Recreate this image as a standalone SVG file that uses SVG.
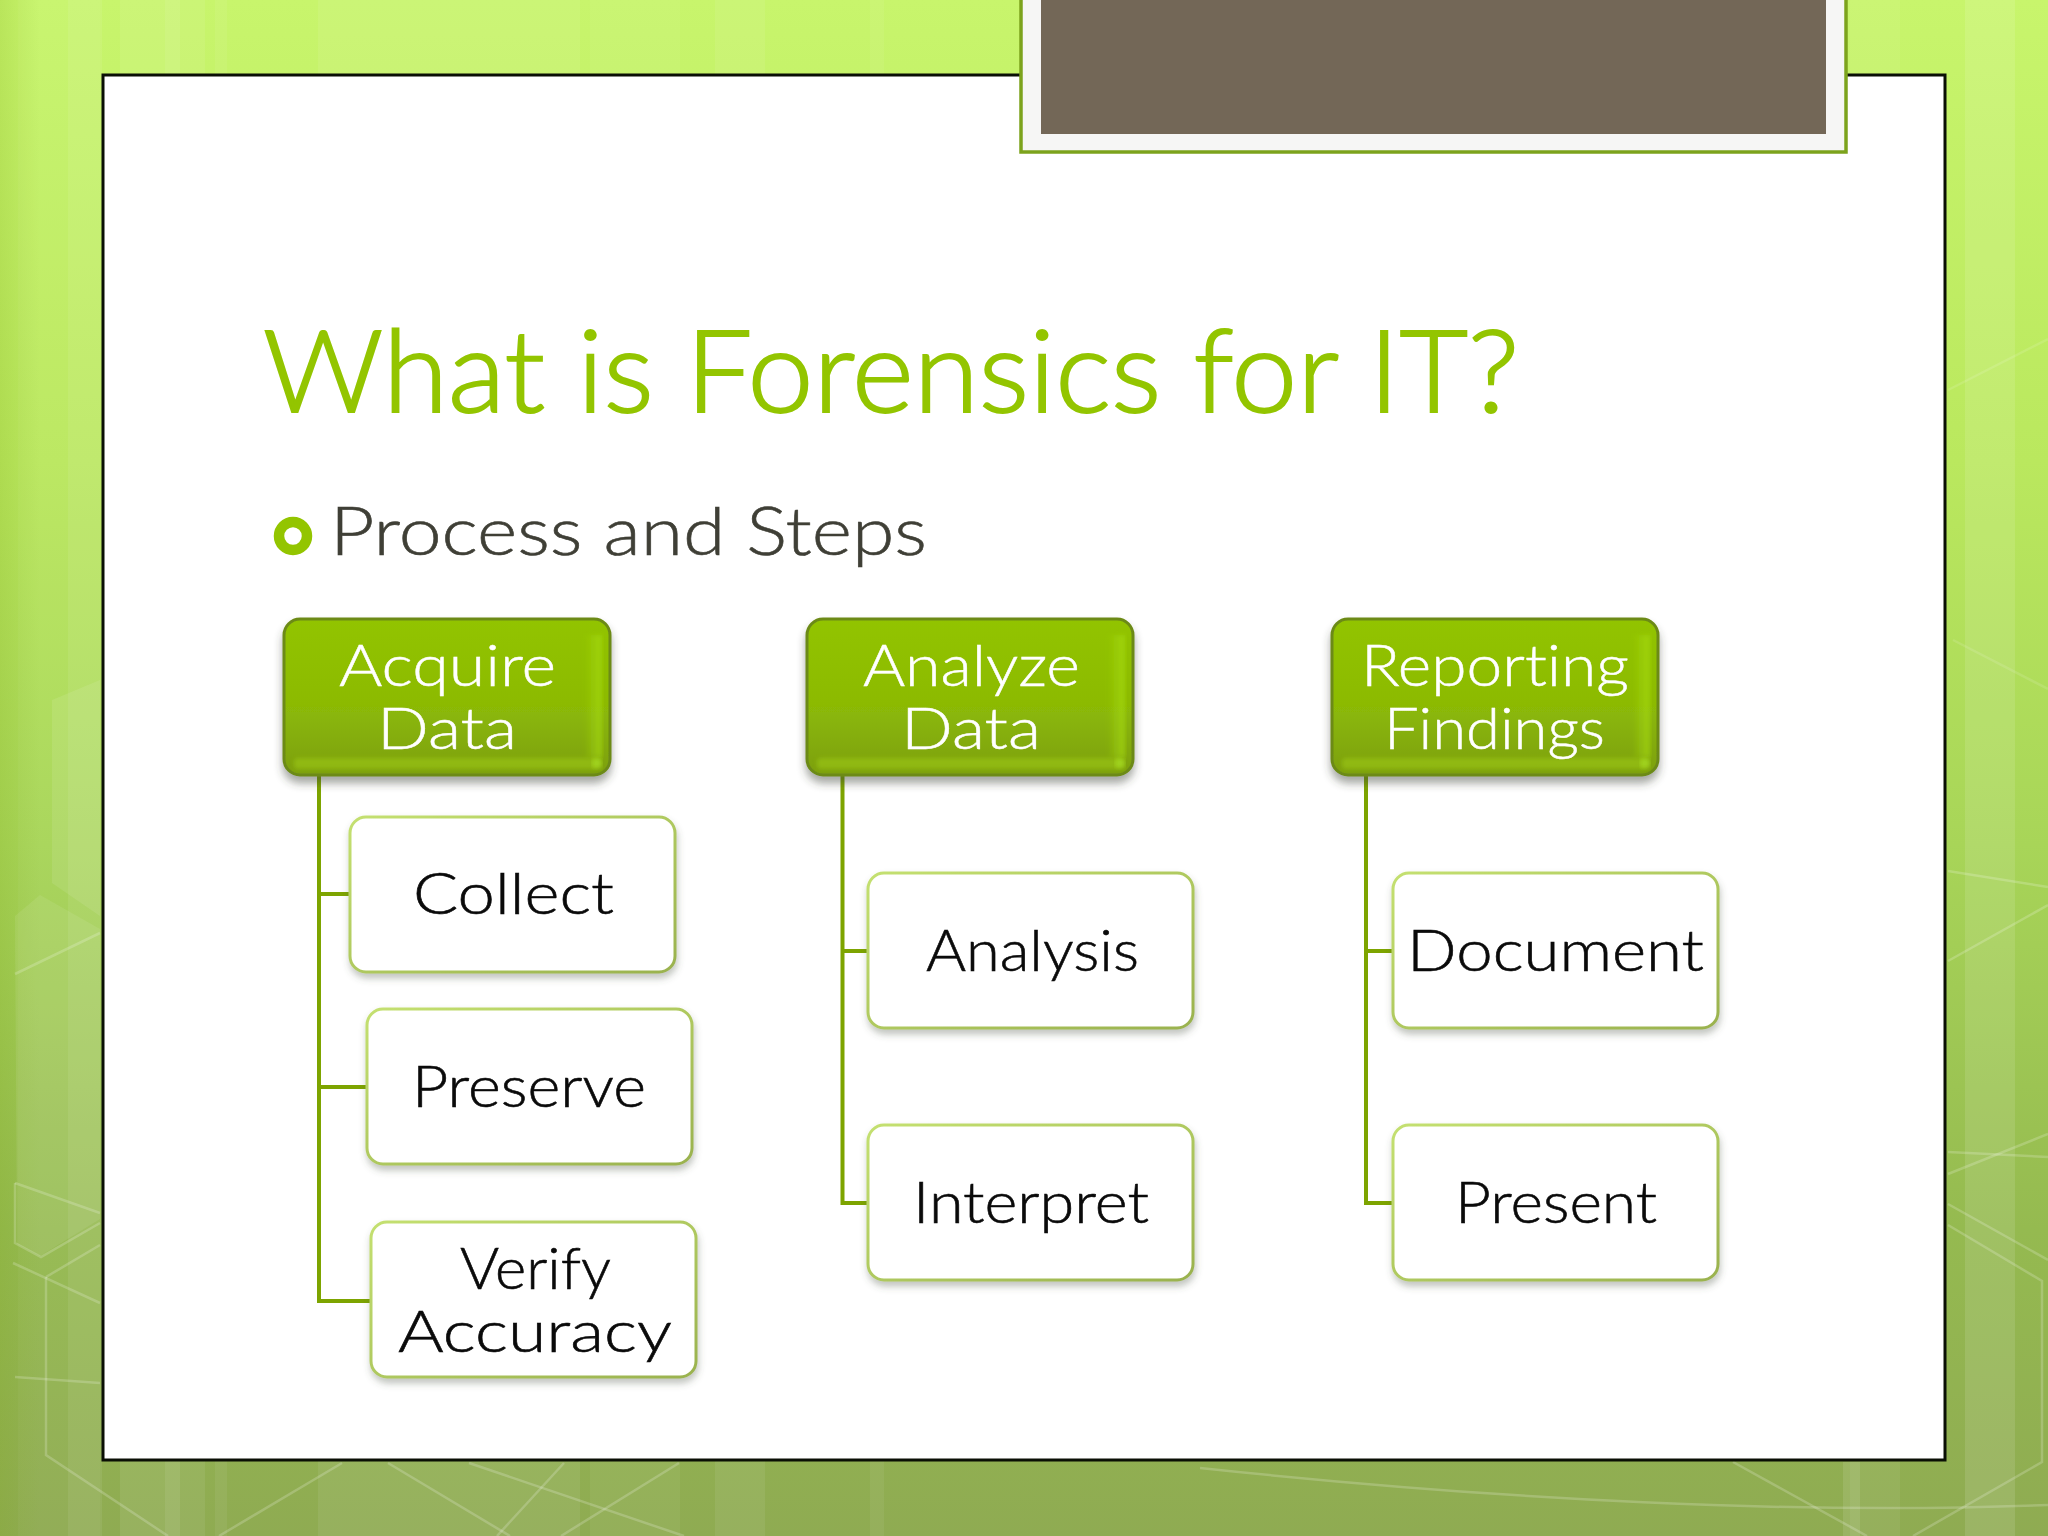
<svg xmlns="http://www.w3.org/2000/svg" width="2048" height="1536" viewBox="0 0 2048 1536">
<style>
text{font-family:"Lato","Noto Sans","Liberation Sans",sans-serif;font-weight:300;font-variant-ligatures:none;text-anchor:start}
.hd{fill:#fff;stroke:#fff;stroke-width:.5;font-size:58px}
.ch{fill:#0a0a0a;stroke:#0a0a0a;stroke-width:.6;font-size:58px}
.gb{fill:url(#gGreen);stroke:#6c8a18;stroke-width:3}
.wb{fill:#fff;stroke:url(#gEdge);stroke-width:3}
.cn{fill:none;stroke:#7da400;stroke-width:4}
.bl{fill:none;stroke:#fff;stroke-opacity:.2;stroke-width:2.5}
.st{fill:#fff}
</style>
<defs>
<linearGradient id="gBg" x1="0" y1="0" x2="0" y2="1">
<stop offset="0" stop-color="#c8f56c"/><stop offset=".3" stop-color="#bae85e"/><stop offset=".55" stop-color="#a8d558"/><stop offset=".8" stop-color="#95ba50"/><stop offset="1" stop-color="#8fab52"/>
</linearGradient>
<linearGradient id="gLeft" x1="0" y1="0" x2="1" y2="0">
<stop offset="0" stop-color="#7fa81a" stop-opacity=".2"/><stop offset="1" stop-color="#7fa81a" stop-opacity="0"/>
</linearGradient>
<linearGradient id="gGreen" x1="0" y1="0" x2="0" y2="1">
<stop offset="0" stop-color="#92c400"/><stop offset=".55" stop-color="#8cba06"/><stop offset="1" stop-color="#7c9f0e"/>
</linearGradient>
<linearGradient id="gEdge" x1="0" y1="0" x2="1" y2="1">
<stop offset="0" stop-color="#c4e070"/><stop offset="1" stop-color="#9ab24e"/>
</linearGradient>
<linearGradient id="gStripR" x1="0" y1="0" x2="1" y2="0">
<stop offset="0" stop-color="#a6dc10" stop-opacity="0"/><stop offset="1" stop-color="#a6dc10"/>
</linearGradient>
<filter id="sh" x="-10%" y="-10%" width="120%" height="125%">
<feDropShadow dx="0" dy="7" stdDeviation="4" flood-color="#3a4030" flood-opacity=".45"/>
</filter>
<filter id="sh2" x="-10%" y="-10%" width="120%" height="125%">
<feDropShadow dx="1" dy="5" stdDeviation="3.500" flood-color="#50584a" flood-opacity=".35"/>
</filter>
<filter id="soft" x="-10%" y="-30%" width="120%" height="160%"><feGaussianBlur stdDeviation="2"/></filter>
<g id="hdBox">
<rect class="gb" x="0" y="0" width="326" height="156" rx="16" filter="url(#sh)"/>
<rect x="10" y="139" width="306" height="11" rx="4" fill="#9cc812" opacity=".6" filter="url(#soft)"/>
<rect x="300" y="16" width="18" height="122" fill="url(#gStripR)" opacity=".7" filter="url(#soft)"/>
<rect x="308" y="139" width="10" height="10" rx="3" fill="#a6dc20" opacity=".7" filter="url(#soft)"/>
</g>
<rect id="chBox" class="wb" x="0" y="0" width="325" height="155" rx="16" filter="url(#sh2)"/>
</defs>
<g id="background">
<rect width="2048" height="1536" fill="url(#gBg)"/>
<rect width="40" height="1536" fill="url(#gLeft)"/>
<g class="st">
<rect x="18" width="82" height="1536" opacity=".03"/>
<rect x="68" width="34" height="1536" opacity=".07"/>
<rect x="120" width="60" height="1536" opacity=".08"/>
<rect x="165" y="0" width="40" height="1536" opacity=".07"/>
<rect x="215" y="0" width="12" height="1536" opacity=".06"/>
<rect x="318" y="0" width="262" height="1536" opacity=".07"/>
<rect x="590" y="0" width="90" height="1536" opacity=".05"/>
<rect x="715" y="0" width="50" height="1536" opacity=".07"/>
<rect x="870" y="0" width="14" height="1536" opacity=".06"/>
<rect x="1965" y="0" width="50" height="1536" opacity=".11"/>
<rect x="1850" y="0" width="50" height="1536" opacity=".06"/>
<rect x="1843" y="1462" width="17" height="74" opacity=".1"/>
<polygon points="52,700 100,680 100,916 52,883" opacity=".09"/>
<polygon points="15,916 40,895 100,929 100,1219 40,1256 17,1244" opacity=".08"/>
</g>
<g class="bl">
<path d="M15,974 L100,933"/>
<path d="M15,1183 L100,1213"/>
<path d="M15,1183 V1243 L41,1257 L100,1223"/>
<path d="M13,1263 L100,1303"/>
<path d="M46,1277 L100,1245"/>
<path d="M46,1277 V1455 L168,1536"/>
<path d="M15,1377 L100,1383"/>
<path d="M342,1463 L219,1536"/>
<path d="M388,1463 L510,1536"/>
<path d="M469,1463 L684,1536"/>
<path d="M564,1463 L497,1536"/>
<path d="M679,1463 L561,1536"/>
<path d="M1948,871 L2048,887"/>
<path d="M1948,961 L2048,905"/>
<path d="M1948,1152 L2048,1157"/>
<path d="M1948,1174 L2048,1134"/>
<path d="M1948,1204 L2048,1260"/>
<path d="M1948,1225 L2042,1281 V1462 L1913,1536"/>
<path d="M1733,1462 L1867,1536"/>
<path d="M1200,1468 C1500,1500 1800,1515 2048,1505"/>
<path d="M1948,390 L2048,339" stroke-opacity=".12"/>
<path d="M1953,640 L2048,689" stroke-opacity=".12"/>
</g>
</g>
<g id="panel">
<rect x="103" y="75" width="1842" height="1385" fill="#fff" stroke="#0a0f05" stroke-width="3"/>
</g>
<g id="frame">
<rect x="1021" y="-6" width="825" height="158" fill="#f6f6f5" stroke="#7ca31c" stroke-width="3.500"/>
<rect x="1041" y="-2" width="785" height="136" fill="#736757"/>
</g>
<text id="title" x="263" y="412" font-size="114" fill="#93c500" stroke="#93c500" stroke-width="2" textLength="1256" lengthAdjust="spacingAndGlyphs">What is Forensics for IT?</text>
<g id="bullet">
<circle cx="293" cy="536" r="14" fill="#fff" stroke="#93c500" stroke-width="10.500"/>
<text x="330" y="555" font-size="67" fill="#3f3f36" stroke="#3f3f36" stroke-width=".6" textLength="597" lengthAdjust="spacingAndGlyphs">Process and Steps</text>
</g>
<g id="connectors">
<path class="cn" d="M319,776 V1301 H371 M319,894 H350 M319,1087 H367"/>
<path class="cn" d="M842.500,776 V1203 H867 M842.500,951 H867"/>
<path class="cn" d="M1366,776 V1203 H1392 M1366,951 H1392"/>
</g>
<g id="acquire-data">
<use href="#hdBox" x="284" y="619"/>
<text class="hd" x="339" y="686" textLength="217" lengthAdjust="spacingAndGlyphs">Acquire</text>
<text class="hd" x="377" y="749" textLength="140" lengthAdjust="spacingAndGlyphs">Data</text>
</g>
<g id="analyze-data">
<use href="#hdBox" x="807" y="619"/>
<text class="hd" x="863" y="686" textLength="217" lengthAdjust="spacingAndGlyphs">Analyze</text>
<text class="hd" x="901" y="749" textLength="140" lengthAdjust="spacingAndGlyphs">Data</text>
</g>
<g id="reporting-findings">
<use href="#hdBox" x="1332" y="619"/>
<text class="hd" x="1361" y="686" textLength="268" lengthAdjust="spacingAndGlyphs">Reporting</text>
<text class="hd" x="1384" y="749" textLength="221" lengthAdjust="spacingAndGlyphs">Findings</text>
</g>
<g id="collect">
<use href="#chBox" x="350" y="817"/>
<text class="ch" x="413" y="914" textLength="201" lengthAdjust="spacingAndGlyphs">Collect</text>
</g>
<g id="preserve">
<use href="#chBox" x="367" y="1009"/>
<text class="ch" x="412" y="1107" textLength="234" lengthAdjust="spacingAndGlyphs">Preserve</text>
</g>
<g id="verify-accuracy">
<use href="#chBox" x="371" y="1222"/>
<text class="ch" x="460" y="1289" textLength="151" lengthAdjust="spacingAndGlyphs">Verify</text>
<text class="ch" x="398" y="1352" textLength="274" lengthAdjust="spacingAndGlyphs">Accuracy</text>
</g>
<g id="analysis">
<use href="#chBox" x="868" y="873"/>
<text class="ch" x="926" y="971" textLength="213" lengthAdjust="spacingAndGlyphs">Analysis</text>
</g>
<g id="interpret">
<use href="#chBox" x="868" y="1125"/>
<text class="ch" x="913" y="1223" textLength="236" lengthAdjust="spacingAndGlyphs">Interpret</text>
</g>
<g id="document">
<use href="#chBox" x="1393" y="873"/>
<text class="ch" x="1407" y="971" textLength="297" lengthAdjust="spacingAndGlyphs">Document</text>
</g>
<g id="present">
<use href="#chBox" x="1393" y="1125"/>
<text class="ch" x="1455" y="1223" textLength="202" lengthAdjust="spacingAndGlyphs">Present</text>
</g>
</svg>
